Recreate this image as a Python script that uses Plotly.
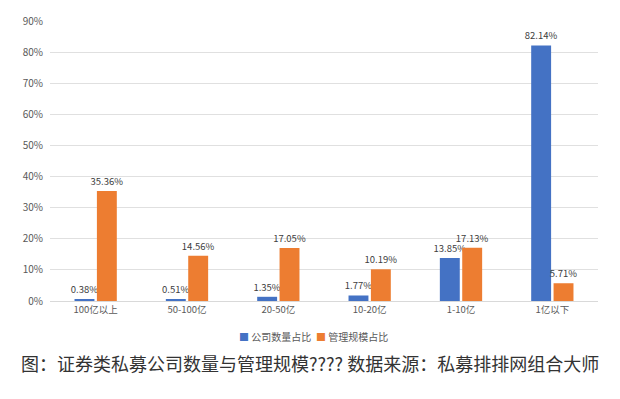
import plotly.graph_objects as go

categories = ["100亿以上", "50-100亿", "20-50亿", "10-20亿", "1-10亿", "1亿以下"]
company_share = [0.38, 0.51, 1.35, 1.77, 13.85, 82.14]
scale_share = [35.36, 14.56, 17.05, 10.19, 17.13, 5.71]
series_names = ["公司数量占比", "管理规模占比"]
caption = "图：证券类私募公司数量与管理规模???? 数据来源：私募排排网组合大师"

FONT = "Noto Sans CJK SC, Noto Sans, sans-serif"
colors = ["#4472C4", "#ED7D31"]

fig = go.Figure()
for name, vals, c in zip(series_names, [company_share, scale_share], colors):
    fig.add_trace(go.Bar(
        x=categories, y=[v / 100 for v in vals], name=name,
        marker=dict(color=c, line=dict(width=0)),
        text=[f"{v:.2f}%" for v in vals], textposition="outside",
        constraintext="none",
        textfont=dict(size=9.5, color="#404040", family=FONT),
        outsidetextfont=dict(size=9.5, color="#404040", family=FONT),
        cliponaxis=False, showlegend=False,
    ))

# legend drawn as text annotations
legend_x = [0.342, 0.482]
annotations = []
for name, c, lx in zip(series_names, colors, legend_x):
    annotations.append(dict(
        text=f"<span style='color:{c}'>■</span> {name}", xref="paper", yref="paper",
        x=lx, y=-0.128, xanchor="left", yanchor="middle", showarrow=False,
        font=dict(size=10, color="#595959", family=FONT)))
annotations.append(dict(text=caption, xref="paper", yref="paper", x=0.474, y=-0.223,
                        xanchor="center", yanchor="middle", showarrow=False,
                        font=dict(size=18, color="#333333", family=FONT)))

fig.update_layout(
    width=620, height=399,
    margin=dict(l=50, r=22, t=14, b=98),
    paper_bgcolor="white", plot_bgcolor="white",
    barmode="group", bargap=0.51, bargroupgap=0.11,
    font=dict(family=FONT, color="#595959", size=9),
    showlegend=False,
    xaxis=dict(showgrid=False, showline=True, linecolor="#d9d9d9", linewidth=1,
               ticks="", tickfont=dict(size=9.5, color="#595959")),
    yaxis=dict(range=[0, 0.9], dtick=0.1, tickformat=".0%", showgrid=True,
               gridcolor="#e0e0e0", gridwidth=1, zeroline=False, showline=False,
               ticks="", ticklabelstandoff=6, tickfont=dict(size=10, color="#595959")),
    annotations=annotations,
)

fig.write_html("out.html")
